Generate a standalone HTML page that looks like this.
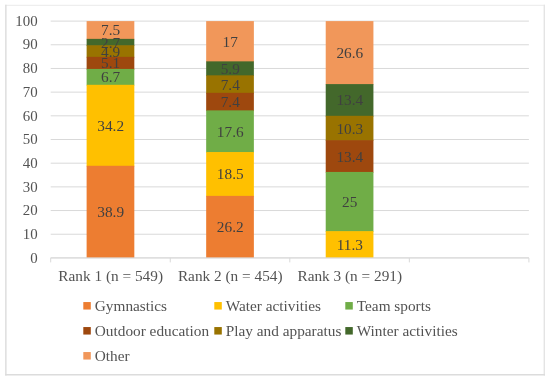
<!DOCTYPE html><html><head><meta charset="utf-8"><title>chart</title><style>html,body{margin:0;padding:0;background:#fff}svg{display:block}text{font-family:"Liberation Serif","Times New Roman",serif;fill:#535353}text.d{fill:#404040}</style></head><body>
<svg width="550" height="380" viewBox="0 0 550 380">
<rect x="0" y="0" width="550" height="380" fill="#fff"/>
<line x1="5.1" x2="545" y1="5.4" y2="5.4" stroke="#EEEEEE" stroke-width="1.3"/>
<line x1="544.3" x2="544.3" y1="4.8" y2="375.5" stroke="#E4E4E4" stroke-width="1.4"/>
<line x1="5.85" x2="5.85" y1="4.8" y2="375.5" stroke="#DEDEDE" stroke-width="1.5"/>
<line x1="5.1" x2="545" y1="374.8" y2="374.8" stroke="#DCDCDC" stroke-width="1.5"/>
<line x1="50.7" x2="528.9" y1="257.90" y2="257.90" stroke="#D9D9D9" stroke-width="1"/>
<text x="37.6" y="262.60" font-size="14.9" text-anchor="end">0</text>
<line x1="50.7" x2="528.9" y1="234.22" y2="234.22" stroke="#D9D9D9" stroke-width="1"/>
<text x="37.6" y="238.92" font-size="14.9" text-anchor="end">10</text>
<line x1="50.7" x2="528.9" y1="210.54" y2="210.54" stroke="#D9D9D9" stroke-width="1"/>
<text x="37.6" y="215.24" font-size="14.9" text-anchor="end">20</text>
<line x1="50.7" x2="528.9" y1="186.86" y2="186.86" stroke="#D9D9D9" stroke-width="1"/>
<text x="37.6" y="191.56" font-size="14.9" text-anchor="end">30</text>
<line x1="50.7" x2="528.9" y1="163.18" y2="163.18" stroke="#D9D9D9" stroke-width="1"/>
<text x="37.6" y="167.88" font-size="14.9" text-anchor="end">40</text>
<line x1="50.7" x2="528.9" y1="139.50" y2="139.50" stroke="#D9D9D9" stroke-width="1"/>
<text x="37.6" y="144.20" font-size="14.9" text-anchor="end">50</text>
<line x1="50.7" x2="528.9" y1="115.82" y2="115.82" stroke="#D9D9D9" stroke-width="1"/>
<text x="37.6" y="120.52" font-size="14.9" text-anchor="end">60</text>
<line x1="50.7" x2="528.9" y1="92.14" y2="92.14" stroke="#D9D9D9" stroke-width="1"/>
<text x="37.6" y="96.84" font-size="14.9" text-anchor="end">70</text>
<line x1="50.7" x2="528.9" y1="68.46" y2="68.46" stroke="#D9D9D9" stroke-width="1"/>
<text x="37.6" y="73.16" font-size="14.9" text-anchor="end">80</text>
<line x1="50.7" x2="528.9" y1="44.78" y2="44.78" stroke="#D9D9D9" stroke-width="1"/>
<text x="37.6" y="49.48" font-size="14.9" text-anchor="end">90</text>
<line x1="50.7" x2="528.9" y1="21.10" y2="21.10" stroke="#D9D9D9" stroke-width="1"/>
<text x="37.6" y="25.80" font-size="14.9" text-anchor="end">100</text>
<line x1="50.70" x2="50.70" y1="257.9" y2="262.4" stroke="#D9D9D9" stroke-width="1"/>
<line x1="170.25" x2="170.25" y1="257.9" y2="262.4" stroke="#D9D9D9" stroke-width="1"/>
<line x1="289.80" x2="289.80" y1="257.9" y2="262.4" stroke="#D9D9D9" stroke-width="1"/>
<line x1="409.35" x2="409.35" y1="257.9" y2="262.4" stroke="#D9D9D9" stroke-width="1"/>
<line x1="528.90" x2="528.90" y1="257.9" y2="262.4" stroke="#D9D9D9" stroke-width="1"/>
<rect x="86.62" y="21.10" width="47.7" height="18.46" fill="#F1975A"/>
<rect x="86.62" y="38.86" width="47.7" height="7.09" fill="#43682B"/>
<rect x="86.62" y="45.25" width="47.7" height="12.30" fill="#997300"/>
<rect x="86.62" y="56.86" width="47.7" height="12.78" fill="#9E480E"/>
<rect x="86.62" y="68.93" width="47.7" height="16.57" fill="#70AD47"/>
<rect x="86.62" y="84.80" width="47.7" height="81.69" fill="#FFC000"/>
<rect x="86.62" y="165.78" width="47.7" height="92.12" fill="#ED7D31"/>
<text x="110.67" y="280.6" font-size="15.3" text-anchor="middle">Rank 1 (n = 549)</text>
<rect x="206.17" y="21.10" width="47.7" height="40.96" fill="#F1975A"/>
<rect x="206.17" y="61.36" width="47.7" height="14.67" fill="#43682B"/>
<rect x="206.17" y="75.33" width="47.7" height="18.22" fill="#997300"/>
<rect x="206.17" y="92.85" width="47.7" height="18.22" fill="#9E480E"/>
<rect x="206.17" y="110.37" width="47.7" height="42.38" fill="#70AD47"/>
<rect x="206.17" y="152.05" width="47.7" height="44.51" fill="#FFC000"/>
<rect x="206.17" y="195.86" width="47.7" height="62.04" fill="#ED7D31"/>
<text x="230.22" y="280.6" font-size="15.3" text-anchor="middle">Rank 2 (n = 454)</text>
<rect x="325.72" y="21.10" width="47.7" height="63.69" fill="#F1975A"/>
<rect x="325.72" y="84.09" width="47.7" height="32.43" fill="#43682B"/>
<rect x="325.72" y="115.82" width="47.7" height="25.09" fill="#997300"/>
<rect x="325.72" y="140.21" width="47.7" height="32.43" fill="#9E480E"/>
<rect x="325.72" y="171.94" width="47.7" height="59.90" fill="#70AD47"/>
<rect x="325.72" y="231.14" width="47.7" height="26.76" fill="#FFC000"/>
<text x="349.77" y="280.6" font-size="15.3" text-anchor="middle">Rank 3 (n = 291)</text>
<line x1="50.7" x2="528.9" y1="257.90" y2="257.90" stroke="#D9D9D9" stroke-width="1"/>
<text x="110.67" y="217.34" font-size="15.3" text-anchor="middle" class="d">38.9</text>
<text x="110.67" y="130.79" font-size="15.3" text-anchor="middle" class="d">34.2</text>
<text x="110.67" y="82.37" font-size="15.3" text-anchor="middle" class="d">6.7</text>
<text x="110.67" y="68.40" font-size="15.3" text-anchor="middle" class="d">5.1</text>
<text x="110.67" y="56.56" font-size="15.3" text-anchor="middle" class="d">4.9</text>
<text x="110.67" y="47.56" font-size="15.3" text-anchor="middle" class="d">2.7</text>
<text x="110.67" y="35.48" font-size="15.3" text-anchor="middle" class="d">7.5</text>
<text x="230.22" y="232.38" font-size="15.3" text-anchor="middle" class="d">26.2</text>
<text x="230.22" y="179.45" font-size="15.3" text-anchor="middle" class="d">18.5</text>
<text x="230.22" y="136.71" font-size="15.3" text-anchor="middle" class="d">17.6</text>
<text x="230.22" y="107.11" font-size="15.3" text-anchor="middle" class="d">7.4</text>
<text x="230.22" y="89.59" font-size="15.3" text-anchor="middle" class="d">7.4</text>
<text x="230.22" y="73.84" font-size="15.3" text-anchor="middle" class="d">5.9</text>
<text x="230.22" y="46.73" font-size="15.3" text-anchor="middle" class="d">17</text>
<text x="349.77" y="250.02" font-size="15.3" text-anchor="middle" class="d">11.3</text>
<text x="349.77" y="207.04" font-size="15.3" text-anchor="middle" class="d">25</text>
<text x="349.77" y="161.58" font-size="15.3" text-anchor="middle" class="d">13.4</text>
<text x="349.77" y="133.52" font-size="15.3" text-anchor="middle" class="d">10.3</text>
<text x="349.77" y="105.45" font-size="15.3" text-anchor="middle" class="d">13.4</text>
<text x="349.77" y="58.09" font-size="15.3" text-anchor="middle" class="d">26.6</text>
<rect x="83.3" y="302.05" width="7.5" height="7.5" fill="#ED7D31"/>
<text x="94.80" y="310.60" font-size="15.3">Gymnastics</text>
<rect x="214.3" y="302.05" width="7.5" height="7.5" fill="#FFC000"/>
<text x="225.80" y="310.60" font-size="15.3">Water activities</text>
<rect x="345.3" y="302.05" width="7.5" height="7.5" fill="#70AD47"/>
<text x="356.80" y="310.60" font-size="15.3">Team sports</text>
<rect x="83.3" y="327.05" width="7.5" height="7.5" fill="#9E480E"/>
<text x="94.80" y="335.60" font-size="15.3">Outdoor education</text>
<rect x="214.3" y="327.05" width="7.5" height="7.5" fill="#997300"/>
<text x="225.80" y="335.60" font-size="15.3">Play and apparatus</text>
<rect x="345.3" y="327.05" width="7.5" height="7.5" fill="#43682B"/>
<text x="356.80" y="335.60" font-size="15.3">Winter activities</text>
<rect x="83.3" y="352.05" width="7.5" height="7.5" fill="#F1975A"/>
<text x="94.80" y="360.60" font-size="15.3">Other</text>
</svg></body></html>
